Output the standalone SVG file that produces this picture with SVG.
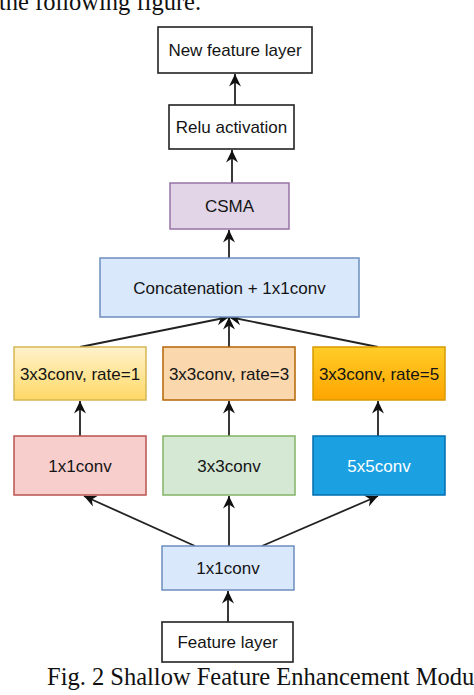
<svg xmlns="http://www.w3.org/2000/svg" width="474" height="695" viewBox="0 0 474 695">
<style>
.n{font-family:"Liberation Sans",Arial,sans-serif;font-size:17px;fill:#141414;text-anchor:middle;dominant-baseline:central}
.w{fill:#fff;stroke:#222;stroke-width:1.6}
.e{stroke:#222;stroke-width:1.8;fill:none;marker-end:url(#ah)}
.cap{font-family:"Liberation Serif","Times New Roman",serif;font-size:24.5px;fill:#111}
</style>
<defs>
<marker id="ah" markerUnits="userSpaceOnUse" markerWidth="16" markerHeight="16" viewBox="-14 -8 16 16" refX="0" refY="0" orient="auto">
<path d="M0,0 L-12.5,-6 L-8.5,0 L-12.5,6 Z" fill="#111"/>
</marker>
<linearGradient id="gy" x1="0" y1="0" x2="0" y2="1"><stop offset="0" stop-color="#fff2cc"/><stop offset="1" stop-color="#ffd966"/></linearGradient>
<linearGradient id="go" x1="0" y1="0" x2="0" y2="1"><stop offset="0" stop-color="#ffcd28"/><stop offset="1" stop-color="#ffa500"/></linearGradient>
</defs>
<rect width="474" height="695" fill="#fff"/>
<text class="cap" x="-1" y="10">the following figure.</text>
<text class="cap" x="47" y="685">Fig. 2 Shallow Feature Enhancement Modu</text>
<g id="connectors">
<line class="e" x1="235" y1="105" x2="235" y2="74"/>
<line class="e" x1="232" y1="183" x2="232" y2="150"/>
<line class="e" x1="229" y1="258" x2="229" y2="230"/>
<line class="e" x1="80" y1="347" x2="229" y2="317"/>
<line class="e" x1="229" y1="347" x2="229" y2="317"/>
<line class="e" x1="378" y1="347" x2="229" y2="317"/>
<line class="e" x1="80" y1="436" x2="80" y2="401"/>
<line class="e" x1="229" y1="436" x2="229" y2="401"/>
<line class="e" x1="378" y1="436" x2="378" y2="401"/>
<line class="e" x1="195" y1="546" x2="84" y2="496"/>
<line class="e" x1="229" y1="546" x2="229" y2="496"/>
<line class="e" x1="262" y1="546" x2="378" y2="496"/>
<line class="e" x1="228" y1="622" x2="228" y2="591"/>
</g>
<g id="new-feature-layer"><rect class="w" x="158" y="27" width="154" height="46"/><text class="n" x="235" y="50">New feature layer</text></g>
<g id="relu"><rect class="w" x="169" y="105" width="125" height="44"/><text class="n" x="231.5" y="127">Relu activation</text></g>
<g id="csma"><rect x="170" y="183" width="119" height="46" fill="#e1d5e7" stroke="#9673a6" stroke-width="1.5"/><text class="n" x="229.5" y="206">CSMA</text></g>
<g id="concat"><rect x="100" y="258" width="259" height="59" fill="#dae8fc" stroke="#6c8ebf" stroke-width="1.5"/><text class="n" x="229.5" y="288">Concatenation + 1x1conv</text></g>
<g id="rate1"><rect x="14" y="347" width="132" height="53" fill="url(#gy)" stroke="#d6b656" stroke-width="1.5"/><text class="n" x="80" y="374">3x3conv, rate=1</text></g>
<g id="rate3"><rect x="163" y="347" width="132" height="53" fill="#fad7ac" stroke="#b46504" stroke-width="1.5"/><text class="n" x="229" y="374">3x3conv, rate=3</text></g>
<g id="rate5"><rect x="313" y="347" width="132" height="53" fill="url(#go)" stroke="#d79b00" stroke-width="1.5"/><text class="n" x="379" y="374">3x3conv, rate=5</text></g>
<g id="conv1"><rect x="14" y="436" width="132" height="59" fill="#f8cecc" stroke="#b85450" stroke-width="1.5"/><text class="n" x="80" y="466">1x1conv</text></g>
<g id="conv3"><rect x="163" y="436" width="132" height="59" fill="#d5e8d4" stroke="#82b366" stroke-width="1.5"/><text class="n" x="229" y="466">3x3conv</text></g>
<g id="conv5"><rect x="313" y="436" width="132" height="59" fill="#1ba1e2" stroke="#006eaf" stroke-width="1.5"/><text class="n" x="379" y="466" style="fill:#fff">5x5conv</text></g>
<g id="conv1b"><rect x="162" y="546" width="132" height="44" fill="#dae8fc" stroke="#6c8ebf" stroke-width="1.5"/><text class="n" x="228" y="568">1x1conv</text></g>
<g id="feature-layer"><rect class="w" x="162" y="622" width="131" height="40"/><text class="n" x="227.5" y="642">Feature layer</text></g>
</svg>
